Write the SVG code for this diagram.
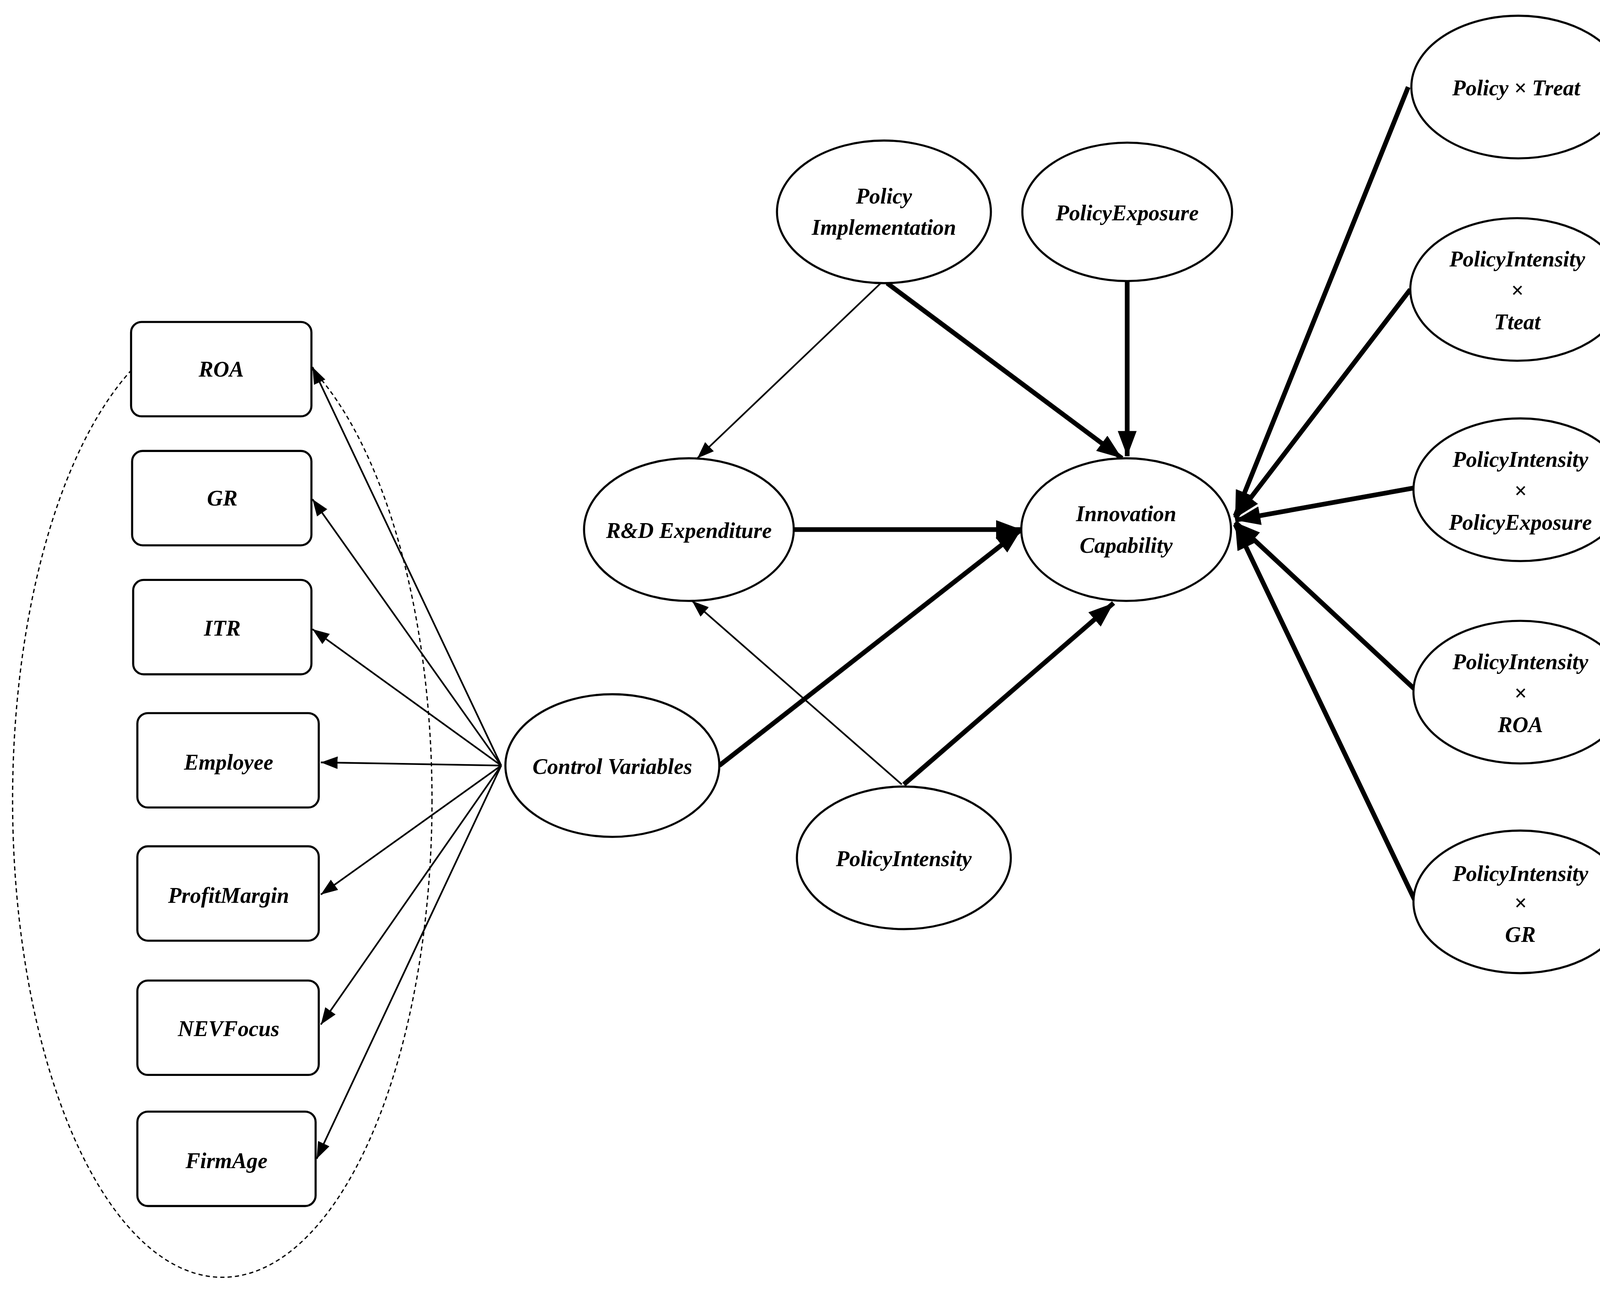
<svg xmlns="http://www.w3.org/2000/svg" width="4209" height="3325" viewBox="0 0 4209 3325">
<style>
.n{fill:#fff;stroke:#000;stroke-width:2}
.t{font-family:"Liberation Serif",serif;font-weight:bold;font-style:italic;font-size:21px;text-anchor:middle}
.thin{stroke:#000;stroke-width:1.6;fill:none;marker-end:url(#a1)}
.thick{stroke:#000;stroke-width:4.5;fill:none;marker-end:url(#a2)}
</style>
<defs>
<marker id="a1" markerUnits="userSpaceOnUse" markerWidth="18" markerHeight="12" refX="16" refY="6" orient="auto"><path d="M0,0 L16,6 L0,12 z"/></marker>
<marker id="a2" markerUnits="userSpaceOnUse" markerWidth="26" markerHeight="18" refX="24" refY="9" orient="auto"><path d="M0,0 L24,9 L0,18 z"/></marker>
</defs>
<rect width="4209" height="3325" fill="#fff"/>
<g transform="scale(2.6843)">
<ellipse cx="212" cy="763" rx="200" ry="455" fill="none" stroke="#000" stroke-width="1.2" stroke-dasharray="4,3"/>
<g id="connectors">
<line class="thin" x1="478" y1="730" x2="298" y2="350"/>
<line class="thin" x1="478" y1="730" x2="298" y2="476"/>
<line class="thin" x1="478" y1="730" x2="298" y2="600"/>
<line class="thin" x1="478" y1="730" x2="306" y2="727"/>
<line class="thin" x1="478" y1="730" x2="306" y2="853"/>
<line class="thin" x1="478" y1="730" x2="306" y2="977"/>
<line class="thin" x1="478" y1="730" x2="302" y2="1105"/>
<line class="thin" x1="840" y1="270" x2="665" y2="437"/>
<line class="thin" x1="860" y1="748" x2="660" y2="573"/>
<line class="thick" x1="846" y1="270" x2="1070" y2="437"/>
<line class="thick" x1="1075" y1="268" x2="1075" y2="435"/>
<line class="thick" x1="757" y1="505" x2="974" y2="505"/>
<line class="thick" x1="686" y1="730" x2="974" y2="505"/>
<line class="thick" x1="862" y1="748" x2="1062" y2="575"/>
<line class="thick" x1="1343" y1="83" x2="1178" y2="492"/>
<line class="thick" x1="1345" y1="276" x2="1178" y2="494"/>
<line class="thick" x1="1350" y1="465" x2="1178" y2="496"/>
<line class="thick" x1="1350" y1="658" x2="1178" y2="498"/>
<line class="thick" x1="1350" y1="860" x2="1178" y2="500"/>
</g>
<g id="ROA"><rect class="n" x="125" y="307" width="172" height="90" rx="10"/><text class="t" x="211" y="359">ROA</text></g>
<g id="GR"><rect class="n" x="126" y="430" width="171" height="90" rx="10"/><text class="t" x="212" y="482">GR</text></g>
<g id="ITR"><rect class="n" x="127" y="553" width="170" height="90" rx="10"/><text class="t" x="212" y="606">ITR</text></g>
<g id="Employee"><rect class="n" x="131" y="680" width="173" height="90" rx="10"/><text class="t" x="218" y="734">Employee</text></g>
<g id="ProfitMargin"><rect class="n" x="131" y="807" width="173" height="90" rx="10"/><text class="t" x="218" y="861">ProfitMargin</text></g>
<g id="NEVFocus"><rect class="n" x="131" y="935" width="173" height="90" rx="10"/><text class="t" x="218" y="988">NEVFocus</text></g>
<g id="FirmAge"><rect class="n" x="131" y="1060" width="170" height="90" rx="10"/><text class="t" x="216" y="1114">FirmAge</text></g>
<g id="ControlVariables"><ellipse class="n" cx="584" cy="730" rx="102" ry="68"/><text class="t" x="584" y="738">Control Variables</text></g>
<g id="RD"><ellipse class="n" cx="657" cy="505" rx="100" ry="68"/><text class="t" x="657" y="513">R&amp;D Expenditure</text></g>
<g id="PolicyImplementation"><ellipse class="n" cx="843" cy="202" rx="102" ry="68"/><text class="t" x="843" y="194">Policy</text><text class="t" x="843" y="224">Implementation</text></g>
<g id="PolicyExposure"><ellipse class="n" cx="1075" cy="202" rx="100" ry="66"/><text class="t" x="1075" y="210">PolicyExposure</text></g>
<g id="InnovationCapability"><ellipse class="n" cx="1074" cy="505" rx="100" ry="68"/><text class="t" x="1074" y="497">Innovation</text><text class="t" x="1074" y="527">Capability</text></g>
<g id="PolicyIntensity"><ellipse class="n" cx="862" cy="818" rx="102" ry="68"/><text class="t" x="862" y="826">PolicyIntensity</text></g>
<g id="PolicyTreat"><ellipse class="n" cx="1448" cy="83" rx="102" ry="68"/><text class="t" x="1446" y="91">Policy × Treat</text></g>
<g id="PITteat"><ellipse class="n" cx="1447" cy="276" rx="102" ry="68"/><text class="t" x="1447" y="254">PolicyIntensity</text><text class="t" x="1447" y="284">×</text><text class="t" x="1447" y="314">Tteat</text></g>
<g id="PIPE"><ellipse class="n" cx="1450" cy="467" rx="102" ry="68"/><text class="t" x="1450" y="445">PolicyIntensity</text><text class="t" x="1450" y="475">×</text><text class="t" x="1450" y="505">PolicyExposure</text></g>
<g id="PIROA"><ellipse class="n" cx="1450" cy="660" rx="102" ry="68"/><text class="t" x="1450" y="638">PolicyIntensity</text><text class="t" x="1450" y="668">×</text><text class="t" x="1450" y="698">ROA</text></g>
<g id="PIGR"><ellipse class="n" cx="1450" cy="860" rx="102" ry="68"/><text class="t" x="1450" y="840">PolicyIntensity</text><text class="t" x="1450" y="868">×</text><text class="t" x="1450" y="898">GR</text></g>
</g>
</svg>
